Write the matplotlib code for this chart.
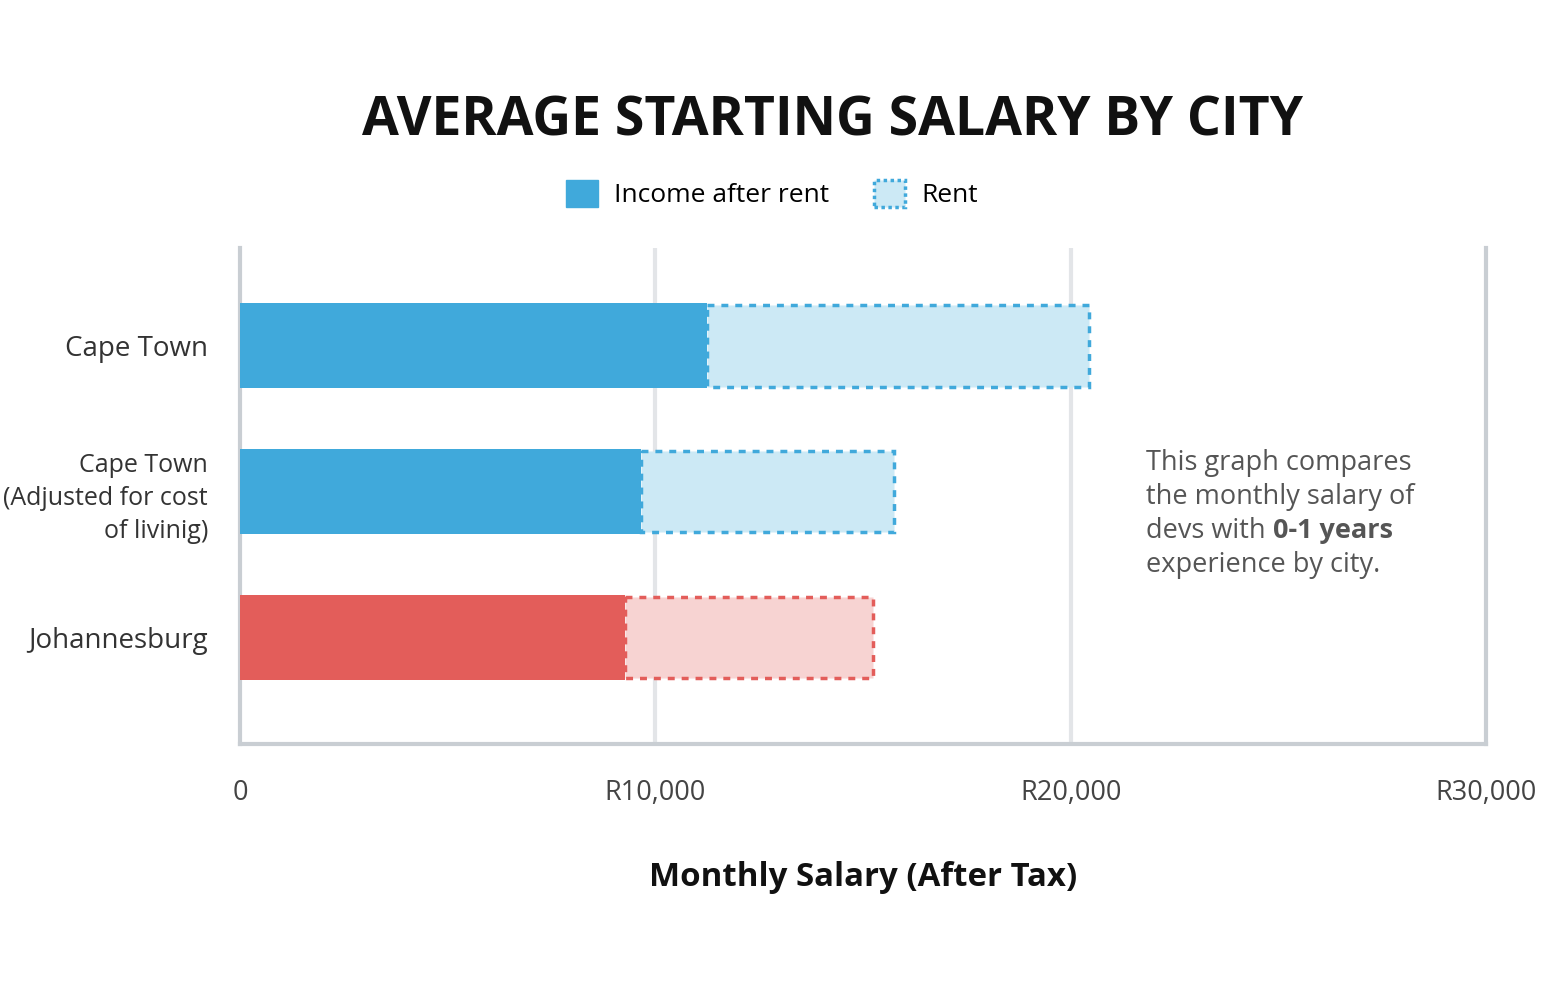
import matplotlib.pyplot as plt
from matplotlib.patches import Patch

cities = ["Cape Town", "Cape Town\n(Adjusted for cost\nof livinig)", "Johannesburg"]
income_after_rent = [11250, 9650, 9280]
rent = [9200, 6100, 5950]
is_jhb = [False, False, True]

x_ticks = [0, 10000, 20000, 30000]
x_tick_labels = ["0", "R10,000", "R20,000", "R30,000"]

note_lines = ["This graph compares", "the monthly salary of", "devs with ", "experience by city."]
note_bold = "0-1 years"

BLUE = "#40a9db"
BLUE_LIGHT = "#cce9f5"
RED = "#e35d5a"
RED_LIGHT = "#f7d3d2"
W, H = 1548, 990


def main():
    plt.rcParams['font.family'] = ['Open Sans', 'DejaVu Sans']
    fig = plt.figure(figsize=(W / 100, H / 100), dpi=100)
    ax = fig.add_axes([240 / W, 1 - 744 / H, (1486 - 240) / W, (744 - 248) / H])

    pos = list(range(len(cities)))
    for i in pos:
        dark = RED if is_jhb[i] else BLUE
        light = RED_LIGHT if is_jhb[i] else BLUE_LIGHT
        ax.barh(i, income_after_rent[i], height=0.58, color=dark, zorder=3)
        ax.barh(i, rent[i], left=income_after_rent[i], height=0.56,
                color=light, edgecolor=dark, linewidth=2.5,
                linestyle=(0, (2, 2)), zorder=3)

    ax.set_xlim(0, 30000)
    ax.set_ylim(2.73, -0.67)
    ax.set_xticks(x_ticks)
    ax.set_xticklabels(x_tick_labels, fontsize=19.5, color="#444444")
    ax.set_yticks(pos)
    ax.set_yticklabels(cities, fontsize=20, color="#333333")
    # the wrapped label is a bit smaller so it fits the margin
    mid = ax.get_yticklabels()[1]
    mid.set_fontsize(18)
    mid.set_linespacing(1.4)
    ax.tick_params(length=0, axis='x', pad=25)
    ax.tick_params(length=0, axis='y', pad=23)

    # grid lines
    for v in x_ticks[1:-1]:
        ax.axvline(v, color="#e3e5e8", linewidth=3, zorder=1)
    ax.spines['top'].set_visible(False)
    for side in ['left', 'right', 'bottom']:
        ax.spines[side].set_color("#c9ced3")
        ax.spines[side].set_linewidth(3)

    ax.set_xlabel("Monthly Salary (After Tax)", fontsize=23.8, fontweight='bold',
                  color="#111111", labelpad=39)

    fig.text(832 / W, 1 - 122 / H, "AVERAGE STARTING SALARY BY CITY", ha='center',
             va='center', fontsize=38.5, fontweight='bold', color="#111111")

    handles = [Patch(facecolor=BLUE, edgecolor=BLUE),
               Patch(facecolor=BLUE_LIGHT, edgecolor=BLUE, linestyle=(0, (1, 1)),
                     linewidth=2.5)]
    fig.legend(handles, ["Income after rent", "Rent"], loc='center',
               bbox_to_anchor=(772 / W, 1 - 194 / H), ncol=2, frameon=False,
               fontsize=19, handlelength=1.2, handleheight=1.2,
               columnspacing=1.7, handletextpad=0.6)

    # side note, one line at a time
    line_y = [463, 497, 531, 565]
    for txt, yy in zip(note_lines, line_y):
        t = fig.text(1146 / W, 1 - yy / H, txt, fontsize=19.5, color="#555555",
                     va='center', ha='left')
        if txt.startswith("devs"):
            ax.annotate(note_bold, xy=(1, 0.5), xycoords=t, fontsize=19.5,
                        fontweight='bold', color="#555555", va='center', ha='left')

    plt.savefig("out.png", dpi=100)


if __name__ == "__main__":
    main()
